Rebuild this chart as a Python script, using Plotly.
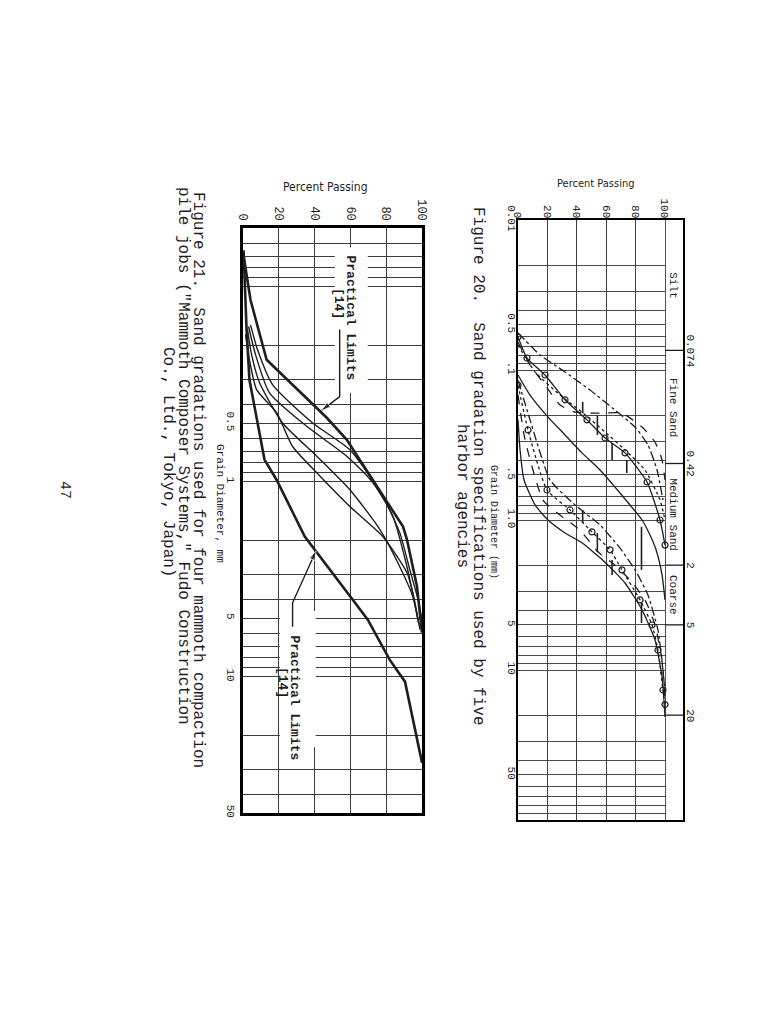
import math
import plotly.graph_objects as go

# ---------------- Figure 21 (left chart) ----------------
# percent passing vs grain diameter (mm)
F21_COARSE_PCT = [0.3, 2.0, 3.6, 12.0, 18.8, 34.5, 61.3, 69.7, 82.0, 90.5, 100]
F21_COARSE_MM = [0.065, 0.166, 0.30, 0.77, 0.98, 1.91, 4.03, 5.1, 8.2, 10.6, 27.6]
F21_FINE_PCT = [0.3, 4.2, 13.2, 46.8, 58.0, 72.5, 78.1, 89.4, 91.6, 97.2, 100]
F21_FINE_MM = [0.069, 0.117, 0.237, 0.47, 0.61, 0.98, 1.19, 1.70, 1.98, 3.45, 5.94]

JOB1_PCT = [4.2, 8.1, 16.5, 38.9, 59.7, 78.1, 87.6, 93.2, 97.8, 100]
JOB1_MM = [0.157, 0.21, 0.318, 0.50, 0.686, 1.19, 1.83, 2.83, 4.03, 5.1]
JOB2_PCT = [3.1, 7.0, 14.8, 35.6, 58.0, 72.5, 83.8, 91.6, 95.5, 98.9]
JOB2_MM = [0.16, 0.223, 0.35, 0.52, 0.74, 1.01, 1.51, 2.73, 4.03, 5.74]
JOB3_PCT = [2.5, 4.8, 9.2, 22.1, 41.2, 59.7, 76.5, 87.6, 94.9, 98.3]
JOB3_MM = [0.166, 0.223, 0.31, 0.50, 0.74, 1.10, 1.76, 2.73, 3.89, 5.41]
JOB4_PCT = [1.4, 3.6, 7.6, 18.8, 27.7, 41.2, 59.7, 78.1, 91.6, 94.9, 97.8]
JOB4_MM = [0.176, 0.237, 0.337, 0.443, 0.66, 0.90, 1.34, 1.91, 2.93, 3.71, 5.1]

LEADER_UP_PCT = [54.0, 54.0, 43.8]
LEADER_UP_MM = [0.166, 0.366, 0.432]
LEADER_LOW_PCT = [27.7, 27.7, 40.8]
LEADER_LOW_MM = [5.54, 4.18, 2.26]

F21_PCT_TICKS = [0, 20, 40, 60, 80, 100]
F21_MM_TICKS = [0.5, 1, 5, 10, 50]
F21_MM_TEXT = ["0.5", "1", "5", "10", "50"]

# ---------------- Figure 20 (right chart) ----------------
F20_A_PCT = [0, 15.0, 32.0, 49.0, 66.0, 80.3, 88.4, 94.6, 98.6]
F20_A_MM = [0.0566, 0.0794, 0.103, 0.136, 0.185, 0.244, 0.316, 0.464, 0.736]
F20_B_PCT = [0, 6.1, 18.4, 32.0, 46.9, 59.2, 72.8, 87.8, 96.6, 100]
F20_B_MM = [0.0603, 0.0832, 0.108, 0.158, 0.215, 0.284, 0.357, 0.558, 1.0, 1.47]
F20_C_PCT = [0, 8.2, 18.4, 28.6, 38.8, 55.8, 70.7, 84.4, 93.2, 98.0, 100]
F20_C_MM = [0.065, 0.0927, 0.126, 0.171, 0.191, 0.194, 0.194, 0.24, 0.302, 0.398, 0.541]
F20_D_PCT = [0, 11.6, 28.6, 43.5, 59.2, 72.8, 86.4, 96.6, 100]
F20_D_MM = [0.068, 0.103, 0.147, 0.191, 0.259, 0.341, 0.464, 0.736, 1.0]
F20_E_PCT = [0, 8.2, 20.4, 32.0, 43.5, 55.8, 66.0, 76.2, 84.4, 89.8, 93.9, 98.0, 100]
F20_E_MM = [0.108, 0.147, 0.206, 0.271, 0.357, 0.464, 0.603, 0.794, 1.0, 1.26, 1.58, 2.33, 3.41]
F20_F_PCT = [0, 1.4, 4.1, 11.6, 20.4, 32.0, 43.5, 59.2, 72.8, 84.4, 93.2, 98.0, 100]
F20_F_MM = [0.215, 0.341, 0.541, 0.794, 1.0, 1.22, 1.42, 1.91, 2.63, 3.98, 6.31, 11.1, 20.6]
F20_G_PCT = [0, 4.8, 17.0, 28.6, 42.2, 54.4, 66.0, 76.2, 86.4, 93.2, 98.0, 100]
F20_G_MM = [0.147, 0.293, 0.736, 0.927, 1.17, 1.63, 2.0, 2.51, 3.41, 5.01, 8.58, 15.8]
F20_H_PCT = [0, 6.8, 19.7, 35.4, 50.3, 62.6, 70.7, 83.0, 91.2, 95.2, 98.6, 100]
F20_H_MM = [0.126, 0.251, 0.631, 0.857, 1.20, 1.58, 2.15, 3.41, 5.01, 7.36, 13.6, 17.0]
F20_I_PCT = [0, 8.2, 21.8, 38.8, 55.8, 69.4, 79.6, 88.4, 95.2, 98.6, 100]
F20_I_MM = [0.117, 0.215, 0.541, 0.794, 1.08, 1.54, 2.15, 3.16, 5.41, 10.0, 14.0]

# short vertical spec bars (constant percent, size range)
F20_STEP_PCT = [44, 54, 64, 74, 44, 54, 64, 84, 84]
F20_STEP_LO_MM = [0.163, 0.20, 0.307, 0.398, 0.857, 1.22, 1.85, 1.11, 3.57]
F20_STEP_HI_MM = [0.194, 0.271, 0.398, 0.486, 1.047, 1.63, 2.33, 2.15, 4.86]

BAND_EDGES_MM = [0.074, 0.42, 2, 5, 20]
BAND_EDGE_TEXT = ["0.074", "0.42", "2", "5", "20"]
BAND_NAMES = ["Silt", "Fine Sand", "Medium Sand", "Coarse"]
BAND_LOWER_MM = [0.01, 0.074, 0.42, 2]
BAND_UPPER_MM = [0.074, 0.42, 2, 5]

F20_PCT_TICKS = [0, 20, 40, 60, 80, 100]
F20_MM_TICKS = [0.01, 0.05, 0.1, 0.5, 1, 5, 10, 50]
F20_MM_TEXT = ["0.01", "0.5", ".1", ".5", "1.0", "5", "10", "50"]

INK = "#1e1e1e"
GRID = "#3c3c3c"
MONO = "Liberation Mono, Courier New, monospace"
NARROW = "Liberation Sans Narrow, DejaVu Sans Condensed, Liberation Sans, sans-serif"
W, H = 768, 1024
PAGE_OFFSET = 8  # the page body sits 8 px in from the window corner
BAND_RIGHT = 112.24


def px_x(px):
    return (px - PAGE_OFFSET) / W


def px_y(px):
    return 1 - (px - PAGE_OFFSET) / H


def log_grid(lo, hi):
    vals = []
    for e in range(-3, 3):
        for m in range(1, 10):
            v = m * 10 ** e
            if lo * 0.999 <= v <= hi * 1.001:
                vals.append(round(v, 6))
    return vals


def mask(x0, x1, y0, y1, xa, ya):
    # white patch drawn above the grid but below the curves
    return go.Scatter(x=[x0, x1, x1, x0, x0], y=[y0, y0, y1, y1, y0], mode="lines",
                      fill="toself", fillcolor="white", line=dict(width=0, color="white"),
                      xaxis=xa, yaxis=ya, hoverinfo="skip")


fig = go.Figure()

# grid breaks behind the labels and the clear soil-classification band
fig.add_trace(mask(51.3, 69.7, 0.063, 0.35, "x", "y"))
fig.add_trace(mask(20.6, 40.6, 4.6, 23, "x", "y"))
fig.add_trace(mask(100.6, BAND_RIGHT + 2, 0.005, 200, "x2", "y2"))

# ---- Figure 21 traces ----
for pct, mm in [(JOB1_PCT, JOB1_MM), (JOB2_PCT, JOB2_MM), (JOB3_PCT, JOB3_MM), (JOB4_PCT, JOB4_MM)]:
    fig.add_trace(go.Scatter(x=pct, y=mm, mode="lines", line=dict(color=INK, width=1.4, shape="spline", smoothing=0.6),
                             xaxis="x", yaxis="y", hoverinfo="skip"))
for pct, mm in [(F21_COARSE_PCT, F21_COARSE_MM), (F21_FINE_PCT, F21_FINE_MM)]:
    fig.add_trace(go.Scatter(x=pct, y=mm, mode="lines", line=dict(color=INK, width=2.6),
                             xaxis="x", yaxis="y", hoverinfo="skip"))
for pct, mm in [(LEADER_UP_PCT, LEADER_UP_MM), (LEADER_LOW_PCT, LEADER_LOW_MM)]:
    fig.add_trace(go.Scatter(x=pct, y=mm, mode="lines+markers", line=dict(color=INK, width=1.4),
                             marker=dict(symbol="arrow", size=[0, 0, 10], angleref="previous", color=INK),
                             xaxis="x", yaxis="y", hoverinfo="skip"))

# ---- Figure 20 traces ----
f20_curves = [
    (F20_A_PCT, F20_A_MM, "dashdot", None),
    (F20_B_PCT, F20_B_MM, "solid", "circle-open"),
    (F20_C_PCT, F20_C_MM, "dash", None),
    (F20_D_PCT, F20_D_MM, "dot", None),
    (F20_E_PCT, F20_E_MM, "solid", None),
    (F20_F_PCT, F20_F_MM, "solid", None),
    (F20_G_PCT, F20_G_MM, "dash", None),
    (F20_H_PCT, F20_H_MM, "dot", "circle-open"),
    (F20_I_PCT, F20_I_MM, "dashdot", None),
]
for pct, mm, dash, sym in f20_curves:
    fig.add_trace(go.Scatter(
        x=pct, y=mm, mode="lines+markers" if sym else "lines",
        line=dict(color=INK, width=1.3, dash=dash, shape="spline", smoothing=0.5),
        marker=dict(symbol=sym or "circle", size=6, color=INK, line=dict(width=1.2, color=INK)),
        xaxis="x2", yaxis="y2", hoverinfo="skip"))

step_x, step_y = [], []
for p, lo, hi in zip(F20_STEP_PCT, F20_STEP_LO_MM, F20_STEP_HI_MM):
    step_x += [p, p, None]
    step_y += [lo, hi, None]
fig.add_trace(go.Scatter(x=step_x, y=step_y, mode="lines", line=dict(color=INK, width=1.6),
                         xaxis="x2", yaxis="y2", hoverinfo="skip"))

band_x, band_y = [], []
for e in BAND_EDGES_MM:
    band_x += [100, BAND_RIGHT, None]
    band_y += [e, e, None]
fig.add_trace(go.Scatter(x=band_x, y=band_y, mode="lines", line=dict(color=INK, width=1.3),
                         xaxis="x2", yaxis="y2", hoverinfo="skip"))

tick_font = dict(family=MONO, size=11, color=INK)

fig.update_layout(
    width=W, height=H,
    margin=dict(l=0, r=0, t=0, b=0, pad=0),
    paper_bgcolor="white", plot_bgcolor="white",
    showlegend=False,
    xaxis=dict(
        domain=[px_x(243), px_x(422)], range=[0, 100], anchor="y", side="top",
        tickmode="array", tickvals=F21_PCT_TICKS, ticktext=[str(v) for v in F21_PCT_TICKS],
        tickangle=90, ticks="", tickfont=dict(family=MONO, size=12, color=INK),
        showgrid=True, gridcolor=GRID, gridwidth=1, zeroline=False, automargin=False,
        showline=True, mirror=True, linecolor="black", linewidth=3,
    ),
    yaxis=dict(
        domain=[px_y(813), px_y(228)], type="log", anchor="x",
        range=[math.log10(50), math.log10(0.05)],
        tickmode="array", tickvals=F21_MM_TICKS, ticktext=F21_MM_TEXT,
        tickangle=90, ticks="", tickfont=dict(family=MONO, size=11, color=INK),
        showgrid=True, gridcolor=GRID, gridwidth=1, zeroline=False, automargin=False,
        minor=dict(tickmode="array", tickvals=log_grid(0.05, 50), showgrid=True,
                   gridcolor=GRID, gridwidth=1, ticks=""),
        showline=True, mirror=True, linecolor="black", linewidth=3,
    ),
    xaxis2=dict(
        domain=[px_x(518), px_x(683)], range=[0, BAND_RIGHT], anchor="y2", side="top",
        tickmode="array", tickvals=F20_PCT_TICKS, ticktext=[str(v) for v in F20_PCT_TICKS],
        tickangle=90, ticks="", tickfont=tick_font, ticklabelstandoff=-4,
        showgrid=True, gridcolor=GRID, gridwidth=1, zeroline=False, automargin=False,
        showline=True, mirror=True, linecolor="black", linewidth=1.8,
    ),
    yaxis2=dict(
        domain=[px_y(820), px_y(220)], type="log", anchor="x2",
        range=[2, -2],
        tickmode="array", tickvals=F20_MM_TICKS, ticktext=F20_MM_TEXT,
        tickangle=90, ticks="", tickfont=tick_font, ticklabelstandoff=-5,
        showgrid=True, gridcolor="#4a4a4a", gridwidth=1, zeroline=False, automargin=False,
        minor=dict(tickmode="array", tickvals=log_grid(0.01, 100), showgrid=True,
                   gridcolor="#4a4a4a", gridwidth=1, ticks=""),
        showline=True, mirror=True, linecolor="black", linewidth=1.8,
    ),
)

ann = []


def text(x, y, s, size, family=MONO, angle=90, xanchor="center", yanchor="middle"):
    ann.append(dict(x=x, y=y, xref="paper", yref="paper", text=s, showarrow=False,
                    textangle=angle, xanchor=xanchor, yanchor=yanchor,
                    font=dict(family=family, size=size, color=INK)))


# axis titles
text(px_x(325), px_y(187), "Percent Passing", 12, family=NARROW, angle=0)
text(px_x(595), px_y(183), "Percent Passing", 11, family=NARROW, angle=0)
text(px_x(220), px_y(503), "Grain Diameter, mm", 11)
text(px_x(494), px_y(522), "Grain Diameter (mm)", 10)

# practical limit labels
text(px_x(350), px_y(253), "<b>Practical Limits</b>", 13, yanchor="top")
text(px_x(339), px_y(303), "<b>[14]</b>", 13)
text(px_x(294), px_y(633), "<b>Practical Limits</b>", 13, yanchor="top")
text(px_x(283), px_y(682), "<b>[14]</b>", 13)

# soil band labels (figure 20)
for name, lo, hi in zip(BAND_NAMES, BAND_LOWER_MM, BAND_UPPER_MM):
    ann.append(dict(x=px_x(673), xref="paper", y=(math.log10(lo) + math.log10(hi)) / 2, yref="y2",
                    text=name, showarrow=False, textangle=90, xanchor="center", yanchor="middle",
                    font=dict(family=MONO, size=11, color=INK)))
for e, s in zip(BAND_EDGES_MM, BAND_EDGE_TEXT):
    ann.append(dict(x=px_x(690), xref="paper", y=math.log10(e), yref="y2",
                    text=s, showarrow=False, textangle=90, xanchor="center", yanchor="middle",
                    font=dict(family=MONO, size=11, color=INK)))

# captions
text(px_x(478), px_y(205), "Figure 20.  Sand gradation specifications used by five", 16, yanchor="top")
text(px_x(462), px_y(422), "harbor agencies", 16, yanchor="top")
text(px_x(198), px_y(190), "Figure 21.  Sand gradations used for four mammoth compaction", 16, yanchor="top")
text(px_x(183), px_y(185), "pile jobs (\"Mammoth Composer Systems,\" Fudo Construction", 16, yanchor="top")
text(px_x(168), px_y(345), "Co., Ltd., Tokyo, Japan)", 16, yanchor="top")

# page number
text(px_x(65), px_y(490), "47", 15)

fig.update_layout(annotations=ann)

fig.write_html("out.html")
